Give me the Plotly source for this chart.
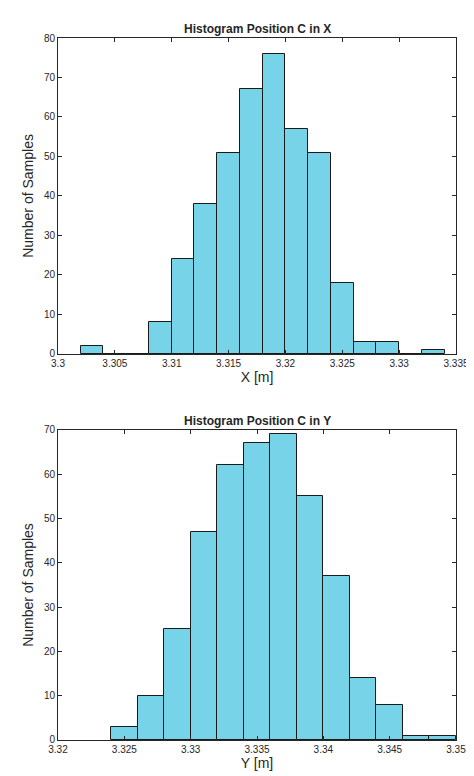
import plotly.graph_objects as go
from plotly.subplots import make_subplots

bin_width = 0.002
x_bin_starts = [3.302,3.304,3.306,3.308,3.310,3.312,3.314,3.316,3.318,3.320,3.322,3.324,3.326,3.328,3.330,3.332]
x_counts = [2,0,0,8,24,38,51,67,76,57,51,18,3,3,0,1]
y_bin_starts = [3.324,3.326,3.328,3.330,3.332,3.334,3.336,3.338,3.340,3.342,3.344,3.346,3.348]
y_counts = [3,10,25,47,62,67,69,55,37,14,8,1,1]

fill = "#77D3E8"
fig = make_subplots(rows=2, cols=1)
fig.add_trace(go.Bar(x=[s + bin_width/2 for s in x_bin_starts], y=x_counts, width=bin_width,
                     marker=dict(color=fill, line=dict(color="#1a1a1a", width=1))), row=1, col=1)
fig.add_trace(go.Bar(x=[s + bin_width/2 for s in y_bin_starts], y=y_counts, width=bin_width,
                     marker=dict(color=fill, line=dict(color="#1a1a1a", width=1))), row=2, col=1)

ax = dict(showline=True, mirror="ticks", linecolor="#262626", ticks="inside", ticklen=4,
          tickcolor="#262626", showgrid=False, zeroline=False, automargin=False,
          tickfont=dict(size=10, color="#262626"))
fig.update_xaxes(**ax)
fig.update_yaxes(**ax)
fig.update_xaxes(range=[3.3, 3.335], dtick=0.005, title_text="X [m]", title_standoff=2, row=1, col=1)
fig.update_xaxes(range=[3.32, 3.35], dtick=0.005, title_text="Y [m]", title_standoff=2, row=2, col=1)
fig.update_yaxes(range=[0, 80], dtick=10, title_text="Number of Samples", title_standoff=6, row=1, col=1,
                 domain=[0.55, 1.0])
fig.update_yaxes(range=[0, 70], dtick=10, title_text="Number of Samples", title_standoff=6, row=2, col=1,
                 domain=[0.0, 0.4416])
fig.update_layout(
    width=474, height=776, showlegend=False, bargap=0,
    plot_bgcolor="white", paper_bgcolor="white",
    font=dict(family="Arial, Liberation Sans", size=12, color="#262626"),
    margin=dict(l=50, r=26, t=30, b=44),
    annotations=[
        dict(text="<b>Histogram Position C in X</b>", x=0.5, y=1.0, xref="paper", yref="paper",
             xanchor="center", yanchor="bottom", showarrow=False, font=dict(size=12)),
        dict(text="<b>Histogram Position C in Y</b>", x=0.5, y=0.4416, xref="paper", yref="paper",
             xanchor="center", yanchor="bottom", showarrow=False, font=dict(size=12)),
    ],
)
fig.write_html("out.html")
